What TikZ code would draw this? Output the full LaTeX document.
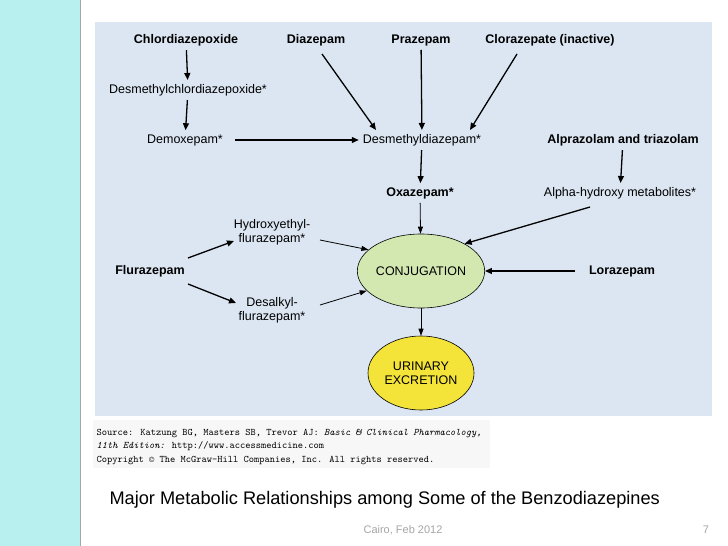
\documentclass[tikz,border=0pt]{standalone}
\usepackage{fontspec}
\setmainfont{Liberation Sans}
\usetikzlibrary{arrows.meta,shapes.geometric}
\definecolor{cyanbg}{HTML}{B8F0F0}
\definecolor{panel}{HTML}{DCE6F2}
\definecolor{conj}{HTML}{D3E8B0}
\definecolor{urin}{HTML}{F4E43A}
\begin{document}
\begin{tikzpicture}[x=1pt,y=-1pt,
 t/.style={font=\fontsize{12.5}{14}\selectfont,align=center,inner sep=4pt},
 b/.style={t,font=\fontsize{12.5}{14}\selectfont\bfseries},
 ar/.style={-{Triangle[length=7pt,width=6pt]},line width=1.3pt},
 th/.style={-{Triangle[length=7pt,width=5pt]},line width=0.8pt},
 el/.style={ellipse,draw,line width=0.6pt,minimum width=106pt,minimum height=74pt,inner sep=0pt,align=center,font=\fontsize{12.5}{14}\selectfont}]
\useasboundingbox (0,0) rectangle (728,546);
\fill[white] (0,0) rectangle (728,546);
\fill[cyanbg] (0,0) rectangle (80,546);
\draw[gray!70,line width=1pt] (80,0) -- (80,546);
\fill[panel] (95,22) rectangle (712,416);
\fill[gray!6] (93,420) rectangle (490,468);
\node[b] (chl) at (186,40) {Chlordiazepoxide};
\node[b] (dia) at (316,40) {Diazepam};
\node[b] (pra) at (421,40) {Prazepam};
\node[b] (clo) at (550,40) {Clorazepate (inactive)};
\node[t] (dmc) at (188,90) {Desmethylchlordiazepoxide*};
\node[t] (dmx) at (185,140) {Demoxepam*};
\node[t] (dmd) at (422,140) {Desmethyldiazepam*};
\node[b] (alp) at (623,140) {Alprazolam and triazolam};
\node[b] (oxa) at (420,193) {Oxazepam*};
\node[t] (aho) at (620,193) {Alpha-hydroxy metabolites*};
\node[t] (hyd) at (272,232) {Hydroxyethyl-\\flurazepam*};
\node[b] (flu) at (150,271) {Flurazepam};
\node[el,fill=conj] (con) at (421,271) {CONJUGATION};
\node[b] (lor) at (622,271) {Lorazepam};
\node[t] (des) at (272,310) {Desalkyl-\\flurazepam*};
\node[el,fill=urin] (uri) at (421,373) {URINARY\\EXCRETION};
\coordinate (dia1) at (322,54);
\coordinate (dia2) at (376,130);
\coordinate (clo1) at (517,54);
\coordinate (clo2) at (470,130);
\coordinate (aho1) at (590,207);
\coordinate (flu1) at (188,258);
\coordinate (hyd1) at (234,241);
\coordinate (flu2) at (188,284);
\coordinate (des1) at (236,303);
\coordinate (hyd2) at (320,240);
\coordinate (des2) at (320,305);
\draw[ar] (chl) -- (dmc);
\draw[ar] (dmc) -- (dmx);
\draw[ar,shorten <=8pt] (dmx) -- (dmd);
\draw[ar] (dia1) -- (dia2);
\draw[ar] (pra) -- (dmd);
\draw[ar] (clo1) -- (clo2);
\draw[ar] (dmd) -- (oxa);
\draw[ar] (alp) -- (aho);
\draw[th] (oxa) -- (con);
\draw[ar] (aho1) -- (con.32);
\draw[ar,shorten <=10pt] (lor) -- (con);
\draw[ar] (flu1) -- (hyd1);
\draw[ar] (flu2) -- (des1);
\draw[th] (hyd2) -- (con.158);
\draw[th] (des2) -- (con.200);
\draw[th] (con) -- (uri);
\node[anchor=west,font=\fontsize{10}{13}\ttfamily,align=left] (src) at (93,440) {Source: Katzung BG, Masters SB, Trevor AJ: \textit{Basic \& Clinical Pharmacology,}\\\textit{11th Edition:} http://www.accessmedicine.com};
\node[anchor=west,font=\fontsize{10}{12}\ttfamily] (cop) at (93,461) {Copyright © The McGraw-Hill Companies, Inc. All rights reserved.};
\node[anchor=west,font=\fontsize{18.2}{20}\selectfont] (cap) at (106,500) {Major Metabolic Relationships among Some of the Benzodiazepines};
\node[font=\fontsize{11}{13}\selectfont,text=gray!70] (ft) at (403,530) {Cairo, Feb 2012};
\node[font=\fontsize{11}{13}\selectfont,text=gray!70] (pg) at (706,530) {7};
\end{tikzpicture}
\end{document}
